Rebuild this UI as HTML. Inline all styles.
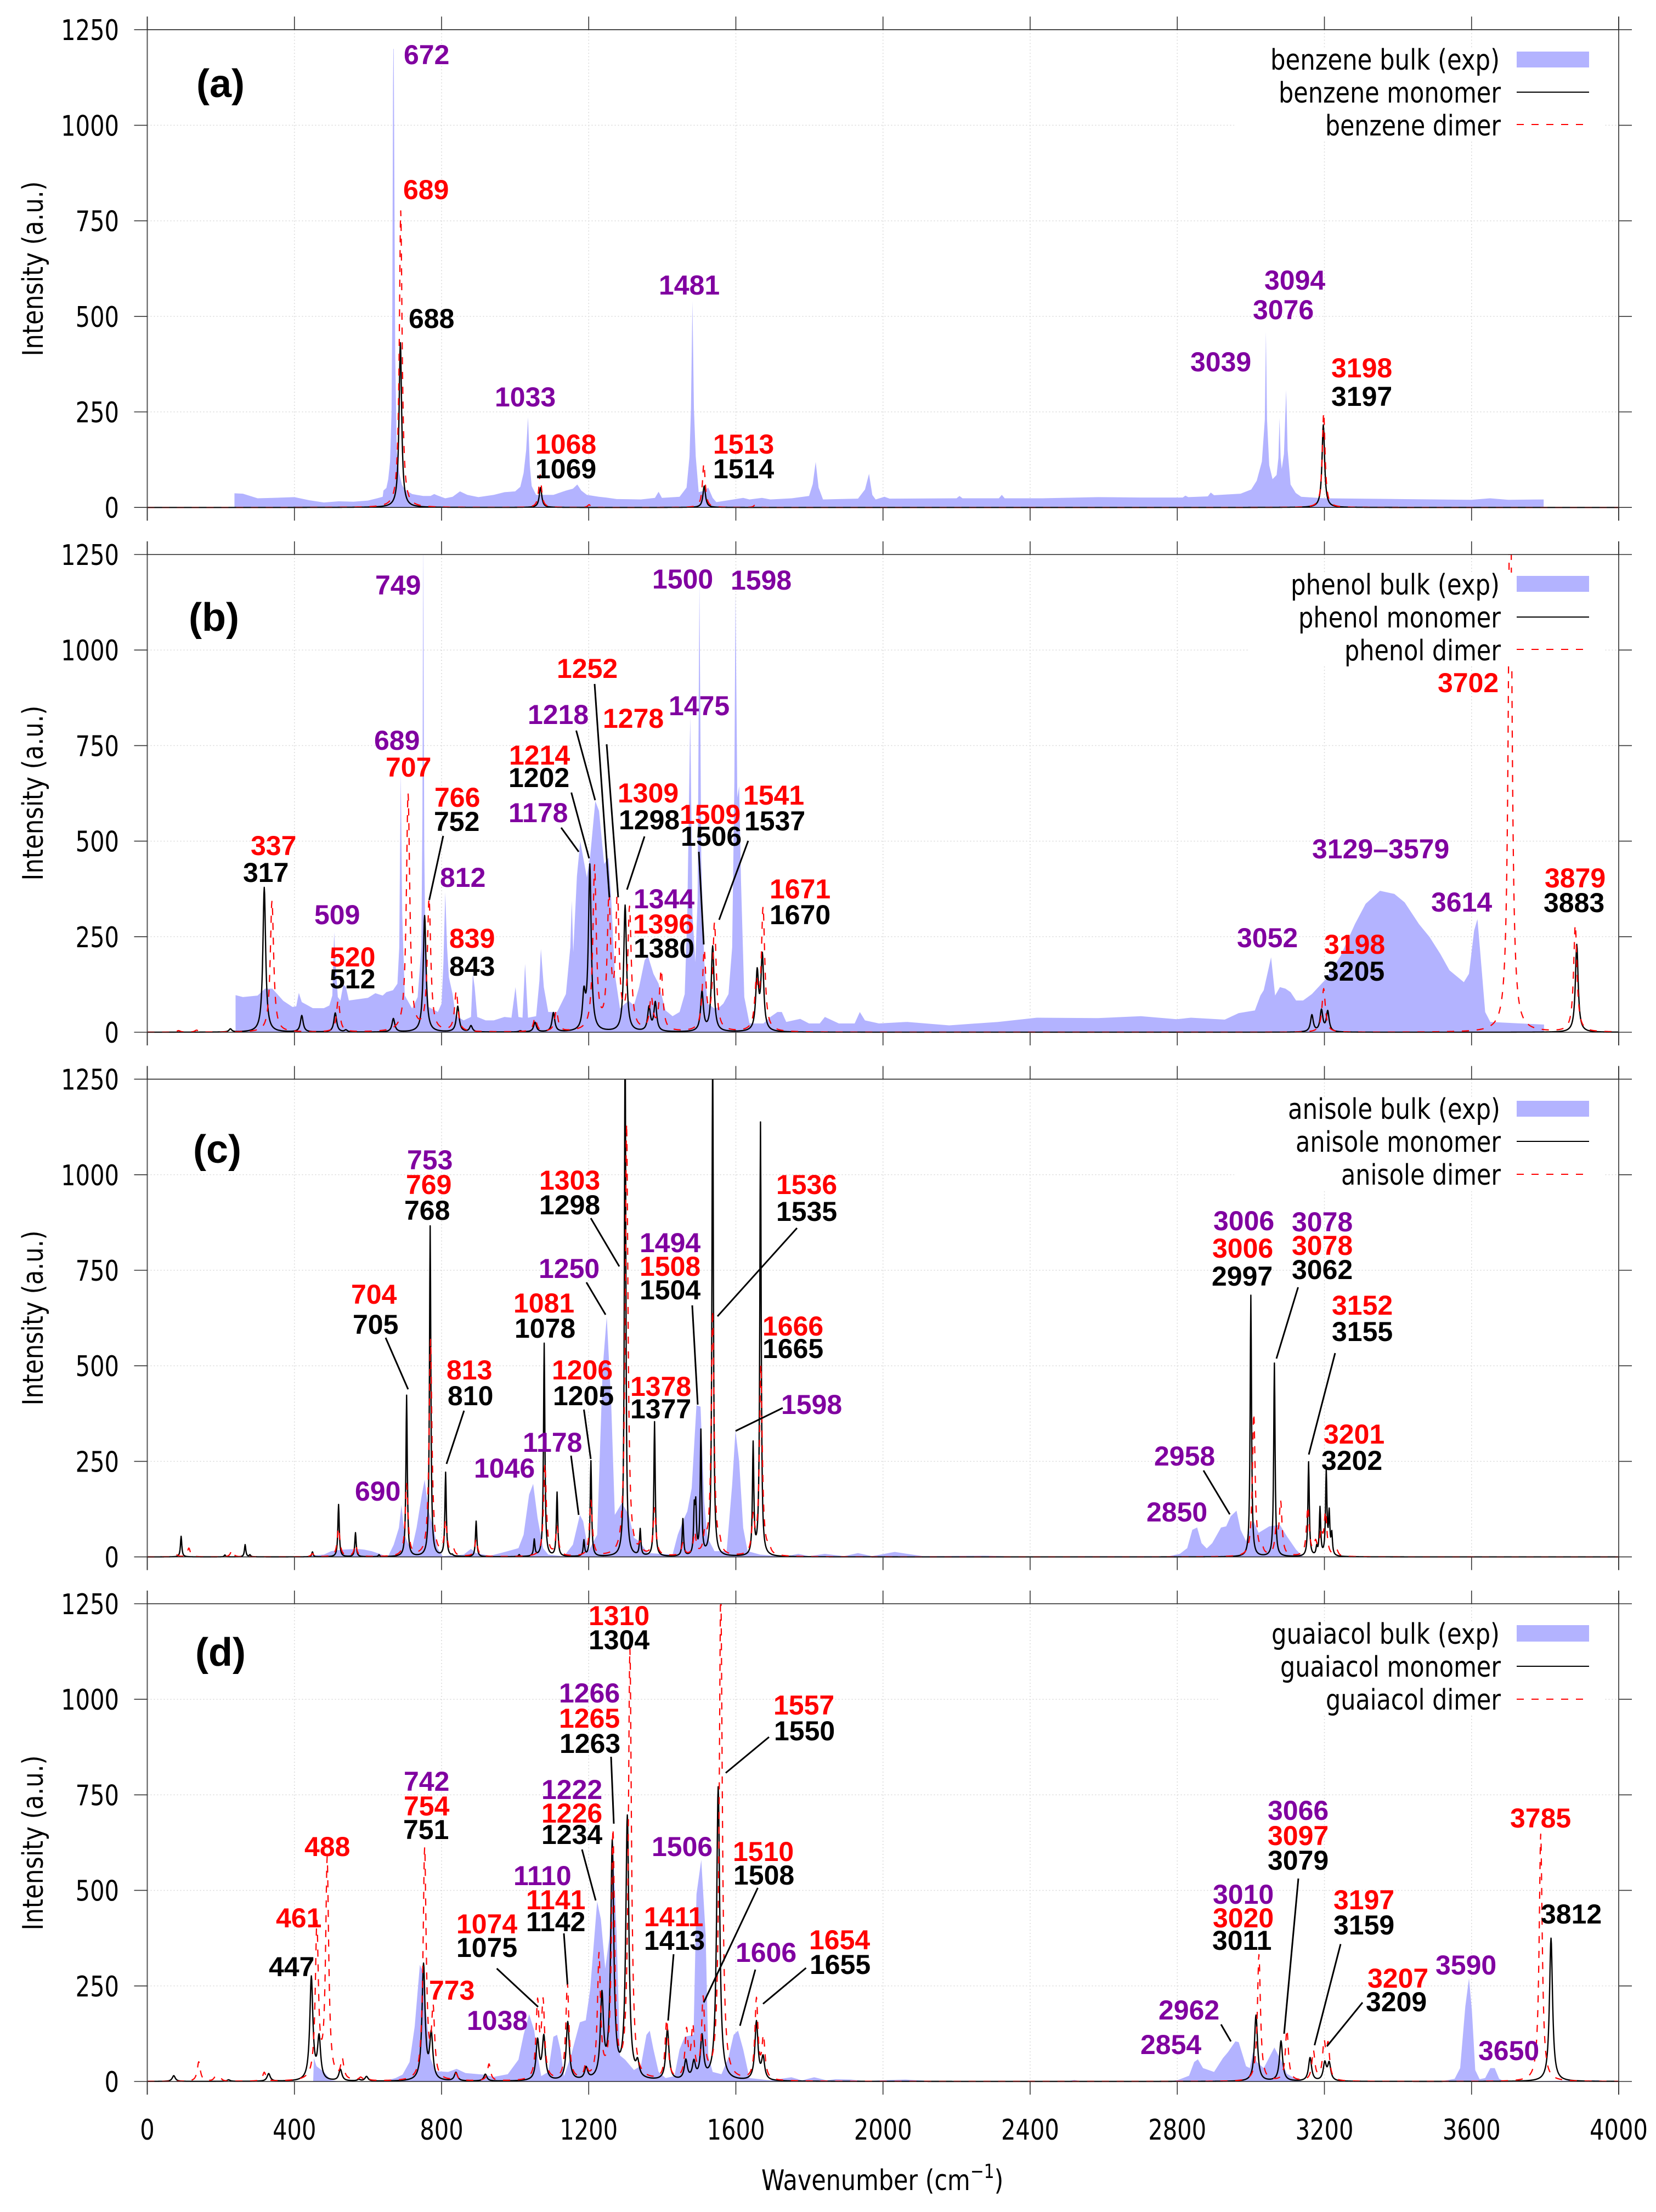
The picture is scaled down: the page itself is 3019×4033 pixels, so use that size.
<!DOCTYPE html>
<html lang="en">
<head>
<meta charset="utf-8">
<title>Raman spectra of benzene, phenol, anisole and guaiacol</title>
<style>
html,body{margin:0;padding:0;background:#fff;}
svg{display:block;}
.v,.r,.k{font-family:"Liberation Sans",Arial,sans-serif;font-weight:700;font-size:50px;}
.v{fill:#8000a0;}
.r{fill:#ff0000;}
.k{fill:#000;}
.tag{font-family:"Liberation Sans",Arial,sans-serif;font-weight:700;font-size:72px;fill:#000;}
.t{font-family:"DejaVu Sans",sans-serif;font-size:52px;fill:#000;}
.ld{stroke:#000;stroke-width:3;}
</style>
</head>
<body>
<svg id="figure" xmlns="http://www.w3.org/2000/svg" width="3019" height="4033" viewBox="0 0 3019 4033">
<rect width="3019" height="4033" fill="#fff"/>
<g id="plots"></g>

<!-- legends -->
<g>
<rect x="2250" y="87" width="673" height="171" fill="#fff"/>
<text class="t" x="2316" y="127" textLength="418" lengthAdjust="spacingAndGlyphs">benzene bulk (exp)</text>
<text class="t" x="2331" y="187" textLength="405" lengthAdjust="spacingAndGlyphs">benzene monomer</text>
<text class="t" x="2416" y="247" textLength="320" lengthAdjust="spacingAndGlyphs">benzene dimer</text>
<rect x="2765" y="94" width="132" height="29" fill="#b3b3ff"/>
<line x1="2765" x2="2897" y1="168" y2="168" stroke="#000" stroke-width="2"/>
<line x1="2765" x2="2887" y1="227" y2="227" stroke="#f00" stroke-width="2" stroke-dasharray="13 14"/>
</g>
<g>
<rect x="2276" y="1044" width="647" height="171" fill="#fff"/>
<text class="t" x="2353" y="1084" textLength="381" lengthAdjust="spacingAndGlyphs">phenol bulk (exp)</text>
<text class="t" x="2367" y="1144" textLength="369" lengthAdjust="spacingAndGlyphs">phenol monomer</text>
<text class="t" x="2451" y="1204" textLength="285" lengthAdjust="spacingAndGlyphs">phenol dimer</text>
<rect x="2765" y="1050" width="132" height="29" fill="#b3b3ff"/>
<line x1="2765" x2="2897" y1="1125" y2="1125" stroke="#000" stroke-width="2"/>
<line x1="2765" x2="2887" y1="1184" y2="1184" stroke="#f00" stroke-width="2" stroke-dasharray="13 14"/>
</g>
<g>
<rect x="2250" y="2001" width="673" height="171" fill="#fff"/>
<text class="t" x="2348" y="2040" textLength="387" lengthAdjust="spacingAndGlyphs">anisole bulk (exp)</text>
<text class="t" x="2362" y="2100" textLength="374" lengthAdjust="spacingAndGlyphs">anisole monomer</text>
<text class="t" x="2445" y="2160" textLength="291" lengthAdjust="spacingAndGlyphs">anisole dimer</text>
<rect x="2765" y="2007" width="132" height="29" fill="#b3b3ff"/>
<line x1="2765" x2="2897" y1="2081" y2="2081" stroke="#000" stroke-width="2"/>
<line x1="2765" x2="2887" y1="2141" y2="2141" stroke="#f00" stroke-width="2" stroke-dasharray="13 14"/>
</g>
<g>
<rect x="2221" y="2957" width="702" height="171" fill="#fff"/>
<text class="t" x="2318" y="2997" textLength="416" lengthAdjust="spacingAndGlyphs">guaiacol bulk (exp)</text>
<text class="t" x="2334" y="3057" textLength="402" lengthAdjust="spacingAndGlyphs">guaiacol monomer</text>
<text class="t" x="2417" y="3117" textLength="319" lengthAdjust="spacingAndGlyphs">guaiacol dimer</text>
<rect x="2765" y="2963" width="132" height="30" fill="#b3b3ff"/>
<line x1="2765" x2="2897" y1="3038" y2="3038" stroke="#000" stroke-width="2"/>
<line x1="2765" x2="2887" y1="3098" y2="3098" stroke="#f00" stroke-width="2" stroke-dasharray="13 14"/>
</g>

<!-- axis titles -->
<text class="t" x="78" y="490" text-anchor="middle" transform="rotate(-90 78 490)" textLength="319" lengthAdjust="spacingAndGlyphs">Intensity (a.u.)</text>
<text class="t" x="78" y="1446" text-anchor="middle" transform="rotate(-90 78 1446)" textLength="319" lengthAdjust="spacingAndGlyphs">Intensity (a.u.)</text>
<text class="t" x="78" y="2403" text-anchor="middle" transform="rotate(-90 78 2403)" textLength="319" lengthAdjust="spacingAndGlyphs">Intensity (a.u.)</text>
<text class="t" x="78" y="3360" text-anchor="middle" transform="rotate(-90 78 3360)" textLength="319" lengthAdjust="spacingAndGlyphs">Intensity (a.u.)</text>
<text class="t" x="1388" y="3993" transform="translate(1388 0) scale(.825 1) translate(-1388 0)">Wavenumber (cm<tspan font-size="36" dy="-22">−1</tspan><tspan dy="22">)</tspan></text>

<!-- panel tags -->
<text class="tag" x="358" y="177">(a)</text>
<text class="tag" x="344" y="1150">(b)</text>
<text class="tag" x="352" y="2120">(c)</text>
<text class="tag" x="356" y="3037">(d)</text>

<!-- leader lines -->
<g>
<line class="ld" x1="808" y1="1524" x2="782.5" y2="1641"/>
<line class="ld" x1="1023" y1="1509" x2="1055" y2="1553"/>
<line class="ld" x1="1041.6" y1="1445" x2="1074" y2="1565"/>
<line class="ld" x1="1050.5" y1="1332" x2="1085" y2="1459"/>
<line class="ld" x1="1084" y1="1247" x2="1111" y2="1636"/>
<line class="ld" x1="1106" y1="1357" x2="1127" y2="1636"/>
<line class="ld" x1="1175" y1="1525" x2="1143" y2="1622"/>
<line class="ld" x1="1274" y1="1553" x2="1283" y2="1722"/>
<line class="ld" x1="1364" y1="1533" x2="1311" y2="1677"/>
<line class="ld" x1="703" y1="2439" x2="744" y2="2533"/>
<line class="ld" x1="846" y1="2572" x2="814" y2="2669"/>
<line class="ld" x1="1077" y1="2221" x2="1129" y2="2309"/>
<line class="ld" x1="1069" y1="2338" x2="1104" y2="2397"/>
<line class="ld" x1="1064.5" y1="2570" x2="1077" y2="2660"/>
<line class="ld" x1="1041" y1="2654" x2="1055" y2="2762"/>
<line class="ld" x1="1262" y1="2380" x2="1272" y2="2561"/>
<line class="ld" x1="1453" y1="2239" x2="1308" y2="2400"/>
<line class="ld" x1="1427" y1="2567" x2="1341" y2="2609"/>
<line class="ld" x1="2366.5" y1="2347" x2="2327" y2="2477"/>
<line class="ld" x1="2434" y1="2467" x2="2386" y2="2652"/>
<line class="ld" x1="2194" y1="2681" x2="2242" y2="2761"/>
<line class="ld" x1="905.6" y1="3589" x2="981" y2="3659"/>
<line class="ld" x1="1028" y1="3525" x2="1034.6" y2="3618"/>
<line class="ld" x1="1061" y1="3372" x2="1086" y2="3465"/>
<line class="ld" x1="1114" y1="3203" x2="1119" y2="3325"/>
<line class="ld" x1="1228" y1="3563" x2="1218" y2="3684"/>
<line class="ld" x1="1381.5" y1="3442" x2="1283" y2="3651"/>
<line class="ld" x1="1402" y1="3167" x2="1323" y2="3232.5"/>
<line class="ld" x1="1377" y1="3591" x2="1349" y2="3693.5"/>
<line class="ld" x1="1469.5" y1="3588" x2="1391" y2="3653.5"/>
<line class="ld" x1="2367" y1="3425" x2="2341" y2="3708"/>
<line class="ld" x1="2444" y1="3544.5" x2="2396.5" y2="3729"/>
<line class="ld" x1="2484" y1="3651" x2="2419" y2="3731"/>
<line class="ld" x1="2226" y1="3691" x2="2244" y2="3722"/>
</g>

<!-- peak labels panel a -->
<g>
<text class="v" x="736" y="117">672</text>
<text class="r" x="735" y="363">689</text>
<text class="k" x="745" y="598">688</text>
<text class="v" x="902" y="741">1033</text>
<text class="r" x="976" y="827">1068</text>
<text class="k" x="976" y="872">1069</text>
<text class="v" x="1201" y="537">1481</text>
<text class="r" x="1300" y="827">1513</text>
<text class="k" x="1300" y="872">1514</text>
<text class="v" x="2305" y="528">3094</text>
<text class="v" x="2284" y="582">3076</text>
<text class="v" x="2170" y="677">3039</text>
<text class="r" x="2427" y="688">3198</text>
<text class="k" x="2427" y="740">3197</text>
</g>
<!-- peak labels panel b -->
<g>
<text class="v" x="684" y="1084">749</text>
<text class="v" x="682" y="1367">689</text>
<text class="r" x="703" y="1416">707</text>
<text class="r" x="792" y="1471">766</text>
<text class="k" x="791" y="1515">752</text>
<text class="v" x="802" y="1617">812</text>
<text class="r" x="457" y="1559">337</text>
<text class="k" x="443" y="1608">317</text>
<text class="v" x="573" y="1685">509</text>
<text class="r" x="601" y="1762">520</text>
<text class="k" x="601" y="1802">512</text>
<text class="r" x="819" y="1728">839</text>
<text class="k" x="819" y="1779">843</text>
<text class="r" x="1015" y="1236">1252</text>
<text class="v" x="962" y="1320">1218</text>
<text class="r" x="1099" y="1327">1278</text>
<text class="r" x="928" y="1394">1214</text>
<text class="k" x="927" y="1435">1202</text>
<text class="v" x="927" y="1499">1178</text>
<text class="r" x="1126" y="1463">1309</text>
<text class="k" x="1128" y="1512">1298</text>
<text class="r" x="1239" y="1502">1509</text>
<text class="k" x="1241" y="1542">1506</text>
<text class="r" x="1355" y="1467">1541</text>
<text class="k" x="1357" y="1514">1537</text>
<text class="v" x="1189" y="1073">1500</text>
<text class="v" x="1332" y="1075">1598</text>
<text class="v" x="1219" y="1304">1475</text>
<text class="v" x="1155" y="1656">1344</text>
<text class="r" x="1154" y="1702">1396</text>
<text class="k" x="1155" y="1746">1380</text>
<text class="r" x="1403" y="1638">1671</text>
<text class="k" x="1403" y="1685">1670</text>
<text class="r" x="2621" y="1262">3702</text>
<text class="v" x="2392" y="1565">3129–3579</text>
<text class="v" x="2609" y="1662">3614</text>
<text class="v" x="2255" y="1727">3052</text>
<text class="r" x="2414" y="1739">3198</text>
<text class="k" x="2413" y="1788">3205</text>
<text class="r" x="2816" y="1618">3879</text>
<text class="k" x="2814" y="1663">3883</text>
</g>
<!-- peak labels panel c -->
<g>
<text class="v" x="742" y="2132">753</text>
<text class="r" x="740" y="2177">769</text>
<text class="k" x="737" y="2224">768</text>
<text class="r" x="640" y="2377">704</text>
<text class="k" x="643" y="2432">705</text>
<text class="r" x="814" y="2515">813</text>
<text class="k" x="816" y="2562">810</text>
<text class="v" x="647" y="2736">690</text>
<text class="v" x="864" y="2694">1046</text>
<text class="r" x="983" y="2169">1303</text>
<text class="k" x="983" y="2214">1298</text>
<text class="v" x="982" y="2330">1250</text>
<text class="r" x="936" y="2393">1081</text>
<text class="k" x="938" y="2439">1078</text>
<text class="r" x="1006" y="2515">1206</text>
<text class="k" x="1008" y="2562">1205</text>
<text class="v" x="953" y="2647">1178</text>
<text class="v" x="1166" y="2283">1494</text>
<text class="r" x="1166" y="2326">1508</text>
<text class="k" x="1166" y="2369">1504</text>
<text class="r" x="1149" y="2545">1378</text>
<text class="k" x="1149" y="2586">1377</text>
<text class="r" x="1415" y="2177">1536</text>
<text class="k" x="1415" y="2226">1535</text>
<text class="r" x="1390" y="2435">1666</text>
<text class="k" x="1390" y="2476">1665</text>
<text class="v" x="1424" y="2578">1598</text>
<text class="v" x="2212" y="2243">3006</text>
<text class="r" x="2210" y="2293">3006</text>
<text class="k" x="2209" y="2344">2997</text>
<text class="v" x="2355" y="2245">3078</text>
<text class="r" x="2355" y="2288">3078</text>
<text class="k" x="2355" y="2332">3062</text>
<text class="r" x="2428" y="2397">3152</text>
<text class="k" x="2428" y="2445">3155</text>
<text class="r" x="2413" y="2632">3201</text>
<text class="k" x="2409" y="2680">3202</text>
<text class="v" x="2104" y="2672">2958</text>
<text class="v" x="2090" y="2774">2850</text>
</g>
<!-- peak labels panel d -->
<g>
<text class="r" x="555" y="3384">488</text>
<text class="r" x="503" y="3514">461</text>
<text class="k" x="490" y="3603">447</text>
<text class="v" x="736" y="3265">742</text>
<text class="r" x="736" y="3310">754</text>
<text class="k" x="735" y="3353">751</text>
<text class="r" x="782" y="3646">773</text>
<text class="v" x="851" y="3701">1038</text>
<text class="r" x="832" y="3525">1074</text>
<text class="k" x="832" y="3568">1075</text>
<text class="r" x="1073" y="2963">1310</text>
<text class="k" x="1073" y="3007">1304</text>
<text class="v" x="1019" y="3104">1266</text>
<text class="r" x="1019" y="3150">1265</text>
<text class="k" x="1020" y="3196">1263</text>
<text class="v" x="987" y="3280">1222</text>
<text class="r" x="987" y="3323">1226</text>
<text class="k" x="987" y="3362">1234</text>
<text class="v" x="936" y="3437">1110</text>
<text class="r" x="959" y="3481">1141</text>
<text class="k" x="959" y="3521">1142</text>
<text class="v" x="1188" y="3384">1506</text>
<text class="r" x="1336" y="3393">1510</text>
<text class="k" x="1337" y="3436">1508</text>
<text class="r" x="1174" y="3512">1411</text>
<text class="k" x="1174" y="3555">1413</text>
<text class="v" x="1341" y="3577">1606</text>
<text class="r" x="1410" y="3126">1557</text>
<text class="k" x="1411" y="3173">1550</text>
<text class="r" x="1475" y="3554">1654</text>
<text class="k" x="1476" y="3599">1655</text>
<text class="v" x="2311" y="3318">3066</text>
<text class="r" x="2311" y="3364">3097</text>
<text class="k" x="2311" y="3409">3079</text>
<text class="v" x="2211" y="3471">3010</text>
<text class="r" x="2211" y="3514">3020</text>
<text class="k" x="2210" y="3555">3011</text>
<text class="v" x="2112" y="3682">2962</text>
<text class="v" x="2079" y="3745">2854</text>
<text class="r" x="2431" y="3481">3197</text>
<text class="k" x="2431" y="3527">3159</text>
<text class="r" x="2493" y="3624">3207</text>
<text class="k" x="2490" y="3667">3209</text>
<text class="v" x="2617" y="3600">3590</text>
<text class="v" x="2695" y="3756">3650</text>
<text class="r" x="2753" y="3332">3785</text>
<text class="k" x="2809" y="3507">3812</text>
</g>
</svg>

<script>
const xTicks = [0,400,800,1200,1600,2000,2400,2800,3200,3600,4000];
const yTicks = [0,250,500,750,1000,1250];

/* benzene */
const benzeneBulkWn = [
237,260,300,340,400,440,480,520,560,600,
625,640,642,650,655,660,664,666,668,669,
670,671,674,678,685,692,700,720,750,770,
780,790,810,830,850,870,900,942,971,1000,
1014,1023,1030,1035,1040,1045,1057,1104,1138,1157,
1169,1180,1195,1228,1247,1276,1342,1380,1390,1399,
1447,1466,1474,1478,1482,1486,1491,1499,1514,1525,
1537,1547,1580,1620,1637,1671,1694,1752,1799,1809,
1817,1825,1837,1932,1951,1962,1971,1980,2004,2018,
2200,2208,2216,2315,2323,2331,2435,2584,2700,2815,
2822,2830,2883,2891,2900,2972,3001,3016,3030,3038,
3041,3044,3050,3059,3070,3075,3078,3081,3084,3090,
3096,3100,3108,3122,3137,3200,3400,3600,3650,3700,
3796];
const benzeneBulkInt = [
37,36,24,25,27,19,13,16,15,18,
24,28,44,51,74,120,250,500,1100,1200,
1200,1000,400,150,90,60,47,35,30,30,
35,31,24,28,42,33,27,33,40,42,
54,90,150,236,109,56,33,33,44,49,
60,44,33,28,26,22,21,25,41,25,
28,52,133,260,540,260,133,40,44,52,
25,14,19,25,21,25,21,24,30,61,
119,52,21,23,47,88,33,21,28,23,
24,30,24,24,33,24,24,27,26,26,
31,27,29,39,32,36,47,70,120,230,
460,230,110,74,85,130,234,130,101,140,
307,150,60,38,28,24,22,20,24,20,
21];
const benzeneMonomerWn = [688,1069,1514,3197];
const benzeneMonomerInt = [431,52,56,216];
const benzeneDimerWn = [689,1068,1201,1513,1652,3198];
const benzeneDimerInt = [776,85,7,114,6,248];

/* phenol */
const phenolBulkWn = [
240,260,300,320,340,370,395,405,412,420,
450,480,495,503,508,512,518,525,533,540,
548,600,620,640,650,668,680,685,689,693,
700,720,735,745,748,750,753,756,765,790,
800,805,810,815,820,830,838,860,880,885,
890,897,920,942,971,990,1001,1009,1020,1027,
1035,1057,1066,1070,1078,1090,1114,1138,1150,1154,
1158,1168,1177,1185,1195,1204,1218,1228,1242,1254,
1261,1271,1285,1299,1309,1323,1337,1352,1361,1376,
1390,1409,1428,1447,1461,1468,1476,1482,1490,1496,
1501,1506,1514,1523,1542,1556,1566,1580,1590,1596,
1599,1604,1609,1614,1623,1637,1675,1694,1713,1725,
1737,1775,1799,1828,1842,1880,1923,1937,1951,1989,
2066,2180,2313,2418,2584,2701,2798,2837,2929,2967,
3011,3026,3035,3055,3066,3079,3094,3108,3123,3142,
3166,3205,3244,3283,3312,3351,3390,3418,3457,3486,
3515,3540,3579,3593,3607,3616,3624,3637,3651,3797];
const phenolBulkInt = [
97,92,96,114,114,82,66,68,103,79,
63,63,70,96,262,180,92,83,125,118,
83,90,102,96,105,110,127,222,683,310,
96,62,92,222,570,1300,480,222,66,53,
75,180,366,222,144,100,44,31,40,153,
118,40,31,31,40,38,118,40,38,179,
38,42,135,218,118,53,53,100,222,344,
209,409,500,457,405,461,605,579,440,457,
353,153,62,75,82,70,118,188,200,153,
127,57,42,53,100,309,827,309,183,350,
1178,450,188,75,62,66,75,100,222,657,
1152,614,644,396,92,23,23,40,53,53,
27,35,23,23,40,23,23,53,31,23,
27,18,27,38,37,42,34,38,33,50,
57,96,110,196,96,118,114,105,83,83,
100,140,200,283,336,370,362,340,283,249,
205,162,131,153,266,296,205,53,27,20];
const phenolMonomerWn = [226,318,420,511,540,669,754,844,880,1014,1054,1104,1187,1203,1299,1364,1381,1508,1537,1658,1672,3166,3192,3209,3886];
const phenolMonomerInt = [8,379,43,50,5,35,305,67,16,3,25,50,88,433,331,62,75,103,223,150,195,44,56,53,230];
const phenolDimerWn = [85,134,339,519,709,766,840,1054,1112,1216,1255,1278,1311,1370,1397,1514,1542,1656,1674,3198,3705,3882];
const phenolDimerInt = [4,5,344,83,622,344,105,36,55,427,335,344,314,83,157,205,279,118,318,114,1600,279];

/* anisole */
const anisoleBulkWn = [
400,480,500,530,570,590,610,650,656,670,
684,691,699,718,732,746,754,765,780,789,
803,860,880,894,932,980,1009,1023,1038,1049,
1061,1076,1090,1133,1157,1176,1185,1199,1223,1238,
1249,1261,1271,1290,1309,1323,1337,1361,1428,1442,
1456,1468,1480,1493,1504,1514,1523,1542,1575,1590,
1599,1609,1620,1632,1666,1733,1770,1799,1842,1894,
1932,1970,2032,2066,2109,2275,2370,2584,2778,2807,
2827,2841,2854,2866,2880,2895,2919,2933,2945,2961,
2972,2987,3006,3021,3050,3079,3098,3123,3142];
const anisoleBulkInt = [
0,6,15,19,21,19,15,2,4,32,
76,136,58,15,76,160,202,119,67,23,
2,6,21,10,3,15,23,58,163,191,
102,23,6,2,32,110,93,15,58,493,
628,406,110,141,110,50,41,10,6,58,
93,119,180,397,393,145,50,15,15,189,
330,250,76,15,6,1,8,2,8,2,
10,2,13,8,2,3,1,2,2,8,
23,71,77,36,22,36,77,80,106,121,
71,41,97,63,80,84,54,19,0];
const anisoleMonomerWn = [92,211,266,279,449,520,566,630,705,769,811,829,894,1011,1052,1079,1114,1187,1206,1299,1340,1379,1456,1487,1491,1505,1537,1647,1667,3000,3064,3157,3179,3188,3205,3213,3220];
const anisoleMonomerInt = [54,5,32,5,13,137,63,5,422,865,219,3,93,5,43,558,167,41,250,1400,69,352,97,113,119,323,1350,289,1134,684,506,247,21,125,219,106,54];
const anisoleDimerWn = [80,113,230,449,520,566,705,770,811,832,894,1081,1114,1206,1303,1340,1379,1456,1488,1516,1537,1556,1647,1668,1690,3008,3030,3069,3081,3155,3176,3191,3203,3234];
const anisoleDimerInt = [5,23,17,8,75,32,189,567,89,16,45,241,75,145,1132,23,123,32,58,50,640,23,93,497,19,374,19,63,138,128,32,58,110,15];

/* guaiacol */
const guaiacolBulkWn = [
451,453,460,480,499,520,646,675,694,713,
727,741,749,756,770,784,818,841,865,913,
942,980,1009,1023,1038,1052,1061,1071,1090,1104,
1114,1123,1133,1152,1176,1192,1204,1223,1233,1245,
1257,1266,1276,1285,1299,1323,1342,1357,1366,1376,
1390,1409,1433,1447,1461,1485,1493,1506,1518,1525,
1537,1561,1580,1594,1606,1620,1637,1694,1751,1780,
1813,1847,1871,1913,1951,2018,2061,2132,2500,2520,
2540,2778,2802,2832,2846,2856,2870,2900,2924,2938,
2958,2967,2987,2997,3006,3016,3035,3064,3084,3098,
3127,3142,3515,3554,3569,3583,3593,3601,3610,3622,
3637,3651,3663,3675,3690,3942,3971];
const guaiacolBulkInt = [
0,61,40,25,4,0,1,9,18,51,
144,305,289,200,60,27,25,33,22,18,
12,19,57,122,176,133,68,14,25,117,
122,84,14,68,155,160,241,471,425,295,
382,631,382,68,57,30,41,122,133,84,
25,9,14,84,117,122,490,580,382,68,
25,19,63,122,133,84,9,3,11,3,
11,3,6,5,1,4,5,1,0,4,
0,0,4,15,51,58,35,25,61,77,
105,103,40,35,77,51,35,89,51,20,
4,0,0,7,35,196,270,185,30,6,
9,35,35,7,0,3,0];
const guaiacolMonomerWn = [72,221,330,446,467,525,575,596,751,772,839,919,1061,1078,1143,1193,1236,1264,1305,1333,1414,1464,1486,1508,1552,1656,1674,3014,3082,3161,3201,3213,3816];
const guaiacolMonomerInt = [15,4,20,270,110,30,4,12,303,118,22,18,103,113,153,30,214,615,685,36,133,50,44,111,768,153,57,173,105,61,46,45,375];
const guaiacolDimerWn = [140,185,199,318,461,489,530,580,596,754,777,839,929,1061,1076,1142,1192,1228,1266,1312,1412,1466,1483,1511,1559,1656,1675,3022,3098,3170,3199,3210,3788];
const guaiacolDimerInt = [51,11,7,23,403,574,51,7,9,605,175,18,44,196,196,252,34,320,642,1123,155,122,128,203,1280,209,106,331,134,77,92,87,647];

const plotLeft = 268.5, plotRight = 2951, plotHeight = 871, tickLen = 24;
const panels = [
  {key:'a', top:54.2,  bulkWn:benzeneBulkWn,  bulkInt:benzeneBulkInt,  monoWn:benzeneMonomerWn,  monoInt:benzeneMonomerInt,  dimWn:benzeneDimerWn,  dimInt:benzeneDimerInt,  gm:4.2, gd:4.5},
  {key:'b', top:1011,  bulkWn:phenolBulkWn,   bulkInt:phenolBulkInt,   monoWn:phenolMonomerWn,   monoInt:phenolMonomerInt,   dimWn:phenolDimerWn,   dimInt:phenolDimerInt,   gm:4.5, gd:5.5},
  {key:'c', top:1967.6,bulkWn:anisoleBulkWn,  bulkInt:anisoleBulkInt,  monoWn:anisoleMonomerWn,  monoInt:anisoleMonomerInt,  dimWn:anisoleDimerWn,  dimInt:anisoleDimerInt,  gm:2.2, gd:4.5},
  {key:'d', top:2924,  bulkWn:guaiacolBulkWn, bulkInt:guaiacolBulkInt, monoWn:guaiacolMonomerWn, monoInt:guaiacolMonomerInt, dimWn:guaiacolDimerWn, dimInt:guaiacolDimerInt, gm:5, gd:5}
];

const NS = 'http://www.w3.org/2000/svg';
const root = document.getElementById('plots');
const defs = document.createElementNS(NS, 'defs');
root.appendChild(defs);

function xScale(w){ return plotLeft + w * (plotRight - plotLeft) / 4000; }
function yScale(panel, v){ return panel.top + plotHeight - v * plotHeight / 1250; }
function make(parent, tag, attrs){
  const el = document.createElementNS(NS, tag);
  for (const k in attrs) el.setAttribute(k, attrs[k]);
  parent.appendChild(el);
  return el;
}
function spectrum(wn, ints, gamma, w){
  let s = 0;
  for (let i = 0; i < wn.length; i++){
    const d = w - wn[i];
    s += ints[i] * gamma * gamma / (d * d + gamma * gamma);
  }
  return s;
}
function curvePath(panel, wn, ints, gamma){
  let d = '';
  for (let w = 0; w <= 4000; w++){
    d += (w ? 'L' : 'M') + xScale(w).toFixed(2) + ' ' + yScale(panel, spectrum(wn, ints, gamma, w)).toFixed(2);
  }
  return d;
}

panels.forEach(function(p){
  const y0 = yScale(p, 0), yT = yScale(p, 1250);
  const clip = make(defs, 'clipPath', {id:'clip-' + p.key});
  make(clip, 'rect', {x:plotLeft, y:yT, width:plotRight - plotLeft, height:plotHeight + 3});

  const g = make(root, 'g', {});
  
  

  yTicks.slice(1, -1).forEach(function(t){
    const gl = make(g, 'line', {x1:plotLeft, x2:plotRight, y1:yScale(p, t), y2:yScale(p, t), stroke:'#d8d8d8', 'stroke-width':1.5, 'stroke-dasharray':'2 4'});
    
    
  });
  xTicks.slice(1, -1).forEach(function(t){
    const gl = make(g, 'line', {x1:xScale(t), x2:xScale(t), y1:yT, y2:y0, stroke:'#d8d8d8', 'stroke-width':1.5, 'stroke-dasharray':'2 4'});
    
    
  });

  const series = make(g, 'g', {'clip-path':'url(#clip-' + p.key + ')'});
  
  

  let bulk = 'M' + xScale(p.bulkWn[0]).toFixed(2) + ' ' + y0.toFixed(2);
  p.bulkWn.forEach(function(w, i){
    bulk += 'L' + xScale(w).toFixed(2) + ' ' + yScale(p, p.bulkInt[i]).toFixed(2);
  });
  bulk += 'L' + xScale(p.bulkWn[p.bulkWn.length - 1]).toFixed(2) + ' ' + y0.toFixed(2) + 'Z';
  const area = make(series, 'path', {d:bulk, fill:'#b3b3ff'});
  
  

  const mono = make(series, 'path', {d:curvePath(p, p.monoWn, p.monoInt, p.gm), fill:'none', stroke:'#000', 'stroke-width':2.4, 'stroke-linejoin':'round'});
  
  

  const dim = make(series, 'path', {d:curvePath(p, p.dimWn, p.dimInt, p.gd), fill:'none', stroke:'#f00', 'stroke-width':2.2, 'stroke-dasharray':'13 14', 'stroke-linejoin':'round'});
  
  

  const axisColor = '#555';
  const left = make(g, 'line', {x1:plotLeft, x2:plotLeft, y1:yT - tickLen, y2:y0 + tickLen, stroke:axisColor, 'stroke-width':2});
  
  
  const right = make(g, 'line', {x1:plotRight, x2:plotRight, y1:yT - tickLen, y2:y0 + tickLen, stroke:axisColor, 'stroke-width':2});
  
  

  yTicks.forEach(function(t){
    const yy = yScale(p, t);
    const tl = make(g, 'line', {x1:plotLeft - tickLen, x2:plotLeft, y1:yy, y2:yy, stroke:'#333', 'stroke-width':1.6});
    
    
    const tr = make(g, 'line', {x1:plotRight, x2:plotRight + tickLen, y1:yy, y2:yy, stroke:'#333', 'stroke-width':1.6});
    
    
    const lab = make(g, 'text', {'class':'t', 'text-anchor':'end', transform:'translate(217 ' + (yy + 19) + ') scale(.8 1)'});
    
    
    lab.textContent = t;
  });
  [yT, y0].forEach(function(yy){
    const hl = make(g, 'line', {x1:plotLeft, x2:plotRight, y1:yy, y2:yy, stroke:'#222', 'stroke-width':1.6});
    
    
  });
  xTicks.forEach(function(t){
    const xx = xScale(t);
    const tb = make(g, 'line', {x1:xx, x2:xx, y1:y0, y2:y0 + tickLen, stroke:'#333', 'stroke-width':1.6});
    
    
    const tt = make(g, 'line', {x1:xx, x2:xx, y1:yT - tickLen, y2:yT, stroke:'#333', 'stroke-width':1.6});
    
    
    if (p.key === 'd'){
      const lab = make(g, 'text', {'class':'t', 'text-anchor':'middle', transform:'translate(' + xx + ' 3901) scale(.8 1)'});
      
      
      lab.textContent = t;
    }
  });
});
</script>
</body>
</html>
